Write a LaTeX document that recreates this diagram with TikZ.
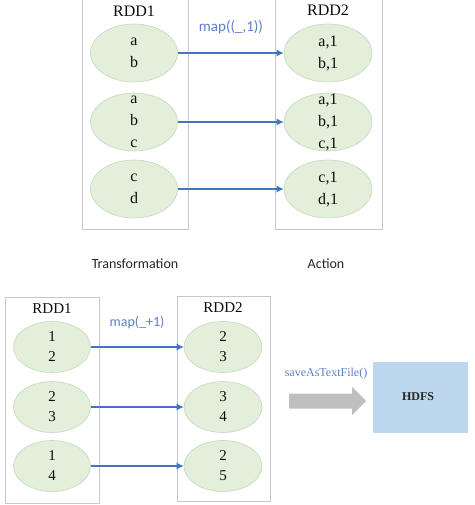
\documentclass[tikz,border=0pt]{standalone}
\usepackage{fontspec}
\setmainfont{Liberation Serif}
\newfontfamily\calib{Carlito}
\usetikzlibrary{shapes.geometric,arrows.meta}
\definecolor{ellfill}{HTML}{E2EFDA}
\definecolor{elldraw}{HTML}{C8D8BC}
\definecolor{boxdraw}{HTML}{C8C8C8}
\definecolor{arrblue}{HTML}{4472C4}
\definecolor{lblblue}{HTML}{5B80C8}
\definecolor{hdfsfill}{HTML}{BDD7EE}
\definecolor{grayarr}{HTML}{BFBFBF}
\tikzset{
  rddbox/.style={draw=boxdraw, line width=0.9pt},
  part/.style={ellipse, fill=ellfill, draw=elldraw, line width=0.6pt, inner sep=0pt},
  partA/.style={part, minimum width=87pt, minimum height=58pt},
  partB/.style={part, minimum width=77pt, minimum height=51pt},
  itemsA/.style={align=center, inner sep=0pt, font=\fontsize{16}{22}\selectfont, text=black!95},
  itemsB/.style={align=center, inner sep=0pt, font=\fontsize{15}{20}\selectfont, text=black!95},
  ttl/.style={inner sep=0pt, text=black!95},
  flow/.style={draw=arrblue, line width=1.1pt, -{Latex[length=7pt,width=7pt]}},
  maplbl/.style={inner sep=0pt, text=lblblue, font=\calib\fontsize{15}{15}\selectfont},
  phase/.style={inner sep=0pt, text=black!85, font=\calib\fontsize{14}{14}\selectfont}
}
\begin{document}
\begin{tikzpicture}[x=1pt,y=-1pt]
\clip (0,0) rectangle (474,505);
\fill[white] (0,0) rectangle (474,505);
% ---------- top part ----------
\node[rddbox, minimum width=106pt, minimum height=235pt, inner sep=0pt] (tb1) at (135,111.5) {};
\node[rddbox, minimum width=107pt, minimum height=235pt, inner sep=0pt] (tb2) at (328.5,111.5) {};
\node[ttl, font=\fontsize{16}{16}\selectfont] (tt1) at (134,11) {RDD1};
\node[ttl, font=\fontsize{16}{16}\selectfont] (tt2) at (328,10) {RDD2};
\node[partA] (ta1) at (134,53) {};
\node[partA] (ta2) at (134,122) {};
\node[partA] (ta3) at (134,189) {};
\node[partA, minimum width=88pt] (tc1) at (328,53) {};
\node[partA, minimum width=88pt] (tc2) at (328,122) {};
\node[partA, minimum width=88pt] (tc3) at (328,189) {};
\node[itemsA] (ta1t) at (ta1) {a\\b};
\node[itemsA] (ta2t) at (134,122) {a\\b\\c};
\node[itemsA] (ta3t) at (ta3) {c\\d};
\node[itemsA] (tc1t) at (tc1) {a,1\\b,1};
\node[itemsA] (tc2t) at (328,122) {a,1\\b,1\\c,1};
\node[itemsA] (tc3t) at (tc3) {c,1\\d,1};
\draw[flow] (ta1.east) -- (tc1.west);
\draw[flow] (ta2.east) -- (tc2.west);
\draw[flow] (ta3.east) -- (tc3.west);
\node[maplbl] (tm) at (231,27) {map((\_,1))};
% ---------- labels ----------
\node[phase] (ph1) at (135,264) {Transformation};
\node[phase] (ph2) at (326,264) {Action};
% ---------- bottom part ----------
\node[rddbox, minimum width=94pt, minimum height=206pt, inner sep=0pt] (bb1) at (52,400) {};
\node[rddbox, minimum width=93pt, minimum height=205pt, inner sep=0pt] (bb2) at (223.5,398.5) {};
\node[ttl, font=\fontsize{15}{15}\selectfont] (bt1) at (52,309) {RDD1};
\node[ttl, font=\fontsize{15}{15}\selectfont] (bt2) at (223,308) {RDD2};
\node[partB] (ba1) at (52,347) {};
\node[partB] (ba2) at (52,407) {};
\node[partB] (ba3) at (52,466) {};
\node[partB, minimum width=78pt] (bc1) at (223,347) {};
\node[partB, minimum width=78pt] (bc2) at (223,407) {};
\node[partB, minimum width=78pt] (bc3) at (223,466) {};
\node[itemsB] (ba1t) at (ba1) {1\\2};
\node[itemsB] (ba2t) at (ba2) {2\\3};
\node[itemsB] (ba3t) at (ba3) {1\\4};
\node[itemsB] (bc1t) at (bc1) {2\\3};
\node[itemsB] (bc2t) at (bc2) {3\\4};
\node[itemsB] (bc3t) at (bc3) {2\\5};
\draw[flow] (ba1.east) -- (bc1.west);
\draw[flow] (ba2.east) -- (bc2.west);
\draw[flow] (ba3.east) -- (bc3.west);
\node[maplbl, font=\calib\fontsize{14}{14}\selectfont] (bm) at (137,323) {map(\_+1)};
% action
\node[inner sep=0pt, text=lblblue, font=\fontsize{12}{12}\selectfont] (sv) at (326,374) {saveAsTextFile()};
\node[fill=hdfsfill, minimum width=95pt, minimum height=71pt, inner sep=0pt] (hdfs) at (420.5,397.5) {};
\node[inner sep=0pt, text=black!85, font=\bfseries\fontsize{12}{12}\selectfont] (hdfst) at (418,397) {HDFS};
\fill[grayarr] (289,393.5) -- (352,393.5) -- (352,387) -- (366,401) -- (352,415) -- (352,408.5) -- (289,408.5) -- cycle;
\end{tikzpicture}
\end{document}
